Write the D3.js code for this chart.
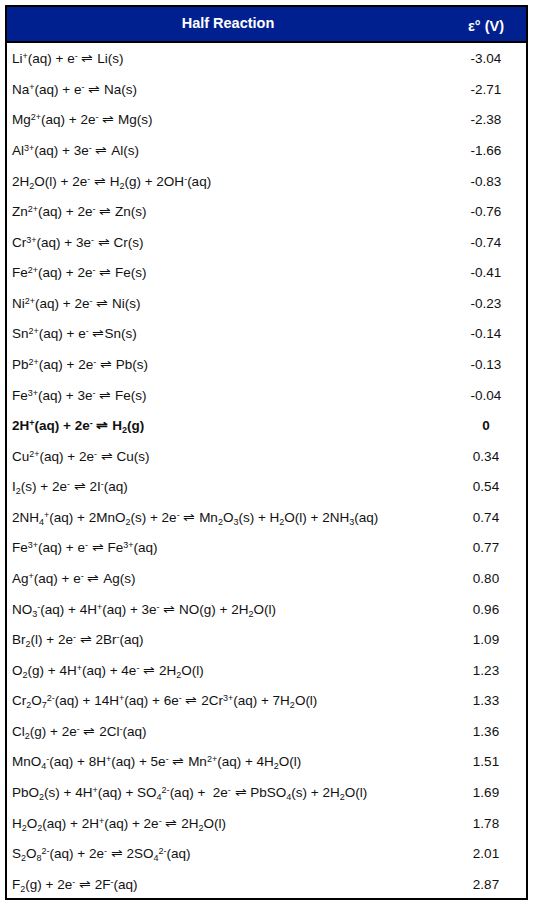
<!DOCTYPE html>
<html>
<head>
<meta charset="utf-8">
<script src="https://cdn.jsdelivr.net/npm/d3@7"></script>
<style>
  body { margin: 0; background: #fff; }
  text { font-family: "Liberation Sans", Arial, sans-serif; }
</style>
</head>
<body>
<svg id="chart" width="533" height="905"></svg>
<script>
// ^{..} = superscript, _{..} = subscript
const reactions = [
  "Li^{+}(aq) + e^{-} ⇌ Li(s)",
  "Na^{+}(aq) + e^{-} ⇌ Na(s)",
  "Mg^{2+}(aq) + 2e^{-} ⇌ Mg(s)",
  "Al^{3+}(aq) + 3e^{-} ⇌ Al(s)",
  "2H_{2}O(l) + 2e^{-} ⇌ H_{2}(g) + 2OH^{-}(aq)",
  "Zn^{2+}(aq) + 2e^{-} ⇌ Zn(s)",
  "Cr^{3+}(aq) + 3e^{-} ⇌ Cr(s)",
  "Fe^{2+}(aq) + 2e^{-} ⇌ Fe(s)",
  "Ni^{2+}(aq) + 2e^{-} ⇌ Ni(s)",
  "Sn^{2+}(aq) + e^{-} ⇌Sn(s)",
  "Pb^{2+}(aq) + 2e^{-} ⇌ Pb(s)",
  "Fe^{3+}(aq) + 3e^{-} ⇌ Fe(s)",
  "2H^{+}(aq) + 2e^{-} ⇌ H_{2}(g)",
  "Cu^{2+}(aq) + 2e^{-} ⇌ Cu(s)",
  "I_{2}(s) + 2e^{-} ⇌ 2I^{-}(aq)",
  "2NH_{4}^{+}(aq) + 2MnO_{2}(s) + 2e^{-} ⇌ Mn_{2}O_{3}(s) + H_{2}O(l) + 2NH_{3}(aq)",
  "Fe^{3+}(aq) + e^{-} ⇌ Fe^{3+}(aq)",
  "Ag^{+}(aq) + e^{-} ⇌ Ag(s)",
  "NO_{3}^{-}(aq) + 4H^{+}(aq) + 3e^{-} ⇌ NO(g) + 2H_{2}O(l)",
  "Br_{2}(l) + 2e^{-} ⇌ 2Br^{-}(aq)",
  "O_{2}(g) + 4H^{+}(aq) + 4e^{-} ⇌ 2H_{2}O(l)",
  "Cr_{2}O_{7}^{2-}(aq) + 14H^{+}(aq) + 6e^{-} ⇌ 2Cr^{3+}(aq) + 7H_{2}O(l)",
  "Cl_{2}(g) + 2e^{-} ⇌ 2Cl^{-}(aq)",
  "MnO_{4}^{-}(aq) + 8H^{+}(aq) + 5e^{-} ⇌ Mn^{2+}(aq) + 4H_{2}O(l)",
  "PbO_{2}(s) + 4H^{+}(aq) + SO_{4}^{2-}(aq) +  2e^{-} ⇌ PbSO_{4}(s) + 2H_{2}O(l)",
  "H_{2}O_{2}(aq) + 2H^{+}(aq) + 2e^{-} ⇌ 2H_{2}O(l)",
  "S_{2}O_{8}^{2-}(aq) + 2e^{-} ⇌ 2SO_{4}^{2-}(aq)",
  "F_{2}(g) + 2e^{-} ⇌ 2F^{-}(aq)"
];
const potentials = ["-3.04","-2.71","-2.38","-1.66","-0.83","-0.76","-0.74","-0.41","-0.23",
  "-0.14","-0.13","-0.04","0","0.34","0.54","0.74","0.77","0.80","0.96","1.09","1.23",
  "1.33","1.36","1.51","1.69","1.78","2.01","2.87"];
const headers = ["Half Reaction", "ε° (V)"];
const boldRow = 12;

const svg = d3.select("#chart");
const box = {left: 6, right: 527, top: 6, bottom: 899, head: 37};

const y = d3.scaleBand()
  .domain(d3.range(reactions.length))
  .range([box.top + box.head, box.bottom]);

// header
svg.append("rect").attr("x", box.left).attr("y", box.top)
  .attr("width", box.right - box.left).attr("height", box.head - 1)
  .attr("fill", "#00208f");
svg.append("text").attr("x", 228).attr("y", box.top + 22)
  .attr("text-anchor", "middle").attr("fill", "#fff")
  .attr("font-weight", "bold").attr("font-size", 14.5).text(headers[0]);
svg.append("text").attr("x", 486).attr("y", box.top + 25)
  .attr("text-anchor", "middle").attr("fill", "#fff")
  .attr("font-weight", "bold").attr("font-size", 14.5).text(headers[1]);
svg.append("line").attr("x1", box.left).attr("x2", box.right)
  .attr("y1", box.top + box.head - 1).attr("y2", box.top + box.head - 1)
  .attr("stroke", "#000").attr("stroke-width", 2);

// rows
const rows = svg.selectAll("g.row").data(reactions).enter()
  .append("g").attr("class", "row")
  .attr("transform", (d, i) => "translate(0," + (y(i) + y.bandwidth() / 2 + 5) + ")");

rows.each(function(d, i) {
  const t = d3.select(this).append("text")
    .attr("x", 12).attr("font-size", 13.5).attr("fill", "#111")
    .attr("font-weight", i === boldRow ? "bold" : "normal");
  d.split(/(\^\{[^}]*\}|_\{[^}]*\})/).filter(s => s.length).forEach(part => {
    if (part[0] === "^" || part[0] === "_") {
      const sup = part[0] === "^";
      t.append("tspan").attr("font-size", 9)
        .attr("dy", sup ? -4 : 3).text(part.slice(2, -1));
      t.append("tspan").attr("dy", sup ? 4 : -3).text("\u200b");
    } else {
      t.append("tspan").text(part.replace(/ /g, "\u00a0"));
    }
  });
  d3.select(this).append("text")
    .attr("x", 486).attr("text-anchor", "middle")
    .attr("font-size", 13.5).attr("fill", "#111")
    .attr("font-weight", i === boldRow ? "bold" : "normal")
    .text(potentials[i]);
});

// outer border
svg.append("rect").attr("x", box.left).attr("y", box.top)
  .attr("width", box.right - box.left).attr("height", box.bottom - box.top)
  .attr("fill", "none").attr("stroke", "#000").attr("stroke-width", 2);
</script>
</body>
</html>
